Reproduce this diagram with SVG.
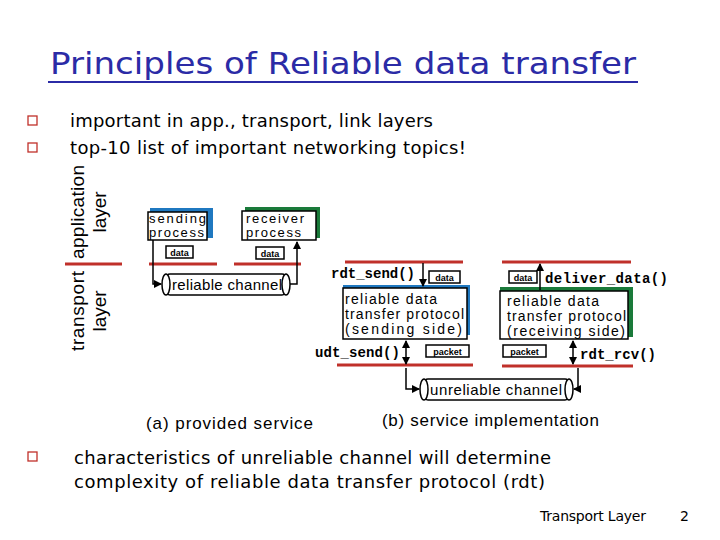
<svg xmlns="http://www.w3.org/2000/svg" width="720" height="540" viewBox="0 0 720 540">
<defs>
<marker id="ah" markerWidth="8" markerHeight="8" refX="7" refY="4" orient="auto" markerUnits="userSpaceOnUse"><path d="M0,0 L8,4 L0,8 z" fill="#000"/></marker>
<marker id="as" markerWidth="8" markerHeight="8" refX="1" refY="4" orient="auto" markerUnits="userSpaceOnUse"><path d="M8,0 L0,4 L8,8 z" fill="#000"/></marker>
</defs>
<style>
.t{font-family:"DejaVu Sans",sans-serif;fill:#000}
.d{font-family:"Liberation Sans",Arial,sans-serif;fill:#000}
.m{font-family:"Liberation Mono",monospace;font-weight:bold;font-size:14px;fill:#000}
.red{stroke:#c0302a;stroke-width:3}
.box{fill:#fff;stroke:#000;stroke-width:1.5}
.sm{fill:#fff;stroke:#000;stroke-width:1.5}
.ln{fill:none;stroke:#000;stroke-width:1.5}
.bl{fill:none;stroke:#c0302a;stroke-width:1.3}
</style>
<rect width="720" height="540" fill="#fff"/>
<text x="50" y="74" class="t" style="font-size:31px;fill:#2b2ba6" textLength="586" lengthAdjust="spacingAndGlyphs">Principles of Reliable data transfer</text>
<line x1="48" y1="82" x2="638" y2="82" stroke="#2b2ba6" stroke-width="2"/>
<rect x="28" y="116" width="9" height="9" class="bl"/>
<rect x="28" y="143" width="9" height="9" class="bl"/>
<text x="70" y="127" class="t" style="font-size:18px" textLength="363">important in app., transport, link layers</text>
<text x="70" y="154" class="t" style="font-size:18px" textLength="396">top-10 list of important networking topics!</text>
<g id="layers">
<text transform="translate(84,212) rotate(-90)" text-anchor="middle" class="d" style="font-size:19px" textLength="94">application</text>
<text transform="translate(106,212) rotate(-90)" text-anchor="middle" class="d" style="font-size:19px">layer</text>
<text transform="translate(84,311) rotate(-90)" text-anchor="middle" class="d" style="font-size:19px" textLength="80">transport</text>
<text transform="translate(106,311) rotate(-90)" text-anchor="middle" class="d" style="font-size:19px">layer</text>
<line x1="65" y1="264" x2="122" y2="264" class="red"/>
</g>
<g id="reds">
<line x1="149" y1="264" x2="217" y2="264" class="red"/>
<line x1="234" y1="264" x2="301" y2="264" class="red"/>
<line x1="345" y1="262" x2="463" y2="262" class="red"/>
<line x1="502" y1="262" x2="631" y2="262" class="red"/>
<line x1="337" y1="365" x2="473" y2="365" class="red"/>
<line x1="502" y1="366" x2="633" y2="366" class="red"/>
</g>
<g id="sending">
<rect x="150" y="208" width="63" height="30" fill="#1f78c0"/>
<rect x="148" y="212" width="59" height="28" class="box"/>
<text x="149" y="223" class="d" style="font-size:13px" textLength="57">sending</text>
<text x="149" y="237" class="d" style="font-size:13px" textLength="55">process</text>
</g>
<g id="receiver">
<rect x="245" y="207" width="75" height="31" fill="#1a7a3a"/>
<rect x="242" y="211" width="74" height="29" class="box"/>
<text x="246" y="223" class="d" style="font-size:13px" textLength="58">receiver</text>
<text x="246" y="237" class="d" style="font-size:13px" textLength="55">process</text>
</g>
<g id="rchan">
<rect x="166" y="274" width="120" height="21" rx="4" class="box"/>
<ellipse cx="166" cy="284.5" rx="4" ry="10.5" class="box"/>
<ellipse cx="286" cy="284.5" rx="4" ry="10.5" class="box"/>
<text x="172" y="290" class="d" style="font-size:15px" textLength="110">reliable channel</text>
</g>
<g id="snd">
<rect x="343" y="285" width="127" height="50" fill="#1f78c0"/>
<rect x="343" y="288" width="124" height="51" class="box"/>
<text x="345" y="304" class="d" style="font-size:14px" textLength="92">reliable data</text>
<text x="345" y="319" class="d" style="font-size:14px" textLength="119">transfer protocol</text>
<text x="345" y="334" class="d" style="font-size:14px" textLength="117">(sending side)</text>
</g>
<g id="rcv">
<rect x="500" y="287" width="133" height="50" fill="#1a7a3a"/>
<rect x="500" y="291" width="128" height="48" class="box"/>
<text x="507" y="306" class="d" style="font-size:14px" textLength="92">reliable data</text>
<text x="507" y="321" class="d" style="font-size:14px" textLength="119">transfer protocol</text>
<text x="507" y="336" class="d" style="font-size:14px" textLength="118">(receiving side)</text>
</g>
<g id="uchan">
<rect x="424" y="379" width="145" height="21" rx="4" class="box"/>
<ellipse cx="424" cy="389.5" rx="4" ry="10.5" class="box"/>
<ellipse cx="569" cy="389.5" rx="4" ry="10.5" class="box"/>
<text x="430" y="395" class="d" style="font-size:15px" textLength="132">unreliable channel</text>
</g>
<g id="tags">
<rect x="166" y="246" width="27" height="12" class="sm"/><text x="179.5" y="256" text-anchor="middle" class="d" style="font-size:9px;font-weight:bold">data</text>
<rect x="256" y="247" width="28" height="12" class="sm"/><text x="270" y="257" text-anchor="middle" class="d" style="font-size:9px;font-weight:bold">data</text>
<rect x="429" y="271" width="31" height="12" class="sm"/><text x="444.5" y="281" text-anchor="middle" class="d" style="font-size:9px;font-weight:bold">data</text>
<rect x="509" y="271" width="28" height="12" class="sm"/><text x="523" y="281" text-anchor="middle" class="d" style="font-size:9px;font-weight:bold">data</text>
<rect x="426" y="345" width="43" height="12" class="sm"/><text x="447.5" y="355" text-anchor="middle" class="d" style="font-size:9px;font-weight:bold">packet</text>
<rect x="503" y="345" width="43" height="12" class="sm"/><text x="524.5" y="355" text-anchor="middle" class="d" style="font-size:9px;font-weight:bold">packet</text>
</g>
<g id="connectors">
<path d="M153,240 V284 H161" class="ln" marker-end="url(#ah)"/>
<path d="M290,284 H297 V242" class="ln" marker-end="url(#ah)"/>
<path d="M423,263 V286" class="ln" marker-end="url(#ah)"/>
<path d="M540,290 V264" class="ln" marker-end="url(#ah)"/>
<path d="M406,341 V364" class="ln" marker-start="url(#as)" marker-end="url(#ah)"/>
<path d="M573,341 V364" class="ln" marker-start="url(#as)" marker-end="url(#ah)"/>
<path d="M406,368 V389 H419" class="ln" marker-end="url(#ah)"/>
<path d="M578,368 V389 H574" class="ln" marker-end="url(#ah)"/>
</g>
<text x="331" y="278" class="m" textLength="84">rdt_send()</text>
<text x="545" y="283" class="m" textLength="123">deliver_data()</text>
<text x="315" y="357" class="m" textLength="85">udt_send()</text>
<text x="580" y="359" class="m" textLength="76">rdt_rcv()</text>
<text x="146" y="429" class="d" style="font-size:17px" textLength="167">(a)  provided service</text>
<text x="382" y="426" class="d" style="font-size:17px" textLength="217">(b) service implementation</text>
<rect x="28" y="452" width="9" height="9" class="bl"/>
<text x="74" y="464" class="t" style="font-size:18px" textLength="477">characteristics of unreliable channel will determine</text>
<text x="74" y="488" class="t" style="font-size:18px" textLength="471">complexity of reliable data transfer protocol (rdt)</text>
<text x="540" y="521" class="t" style="font-size:14px" textLength="106">Transport Layer</text>
<text x="680" y="521" class="t" style="font-size:14px">2</text>
</svg>
